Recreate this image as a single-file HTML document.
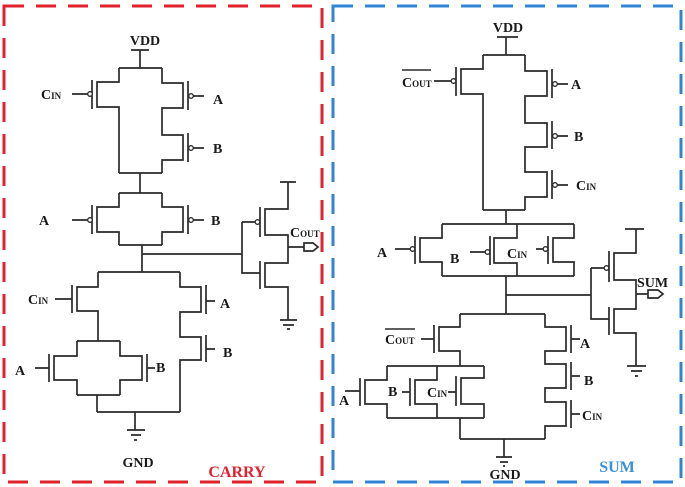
<!DOCTYPE html>
<html><head><meta charset="utf-8"><style>
html,body{margin:0;padding:0;background:#fff;}
svg{display:block;}
text{font-family:"Liberation Serif",serif;font-weight:bold;fill:#1a1a1a;font-size:14px;}
.s{font-size:9px;}
</style></head><body>
<svg width="685" height="487" viewBox="0 0 685 487" xmlns="http://www.w3.org/2000/svg">
<rect x="4" y="6" width="318" height="476" fill="none" stroke="#e0222e" stroke-width="3" stroke-dasharray="20,12"/>
<rect x="333" y="6" width="348" height="476" fill="none" stroke="#2f86d6" stroke-width="3" stroke-dasharray="20,12"/>
<g fill="none" stroke="#2a2a2a" stroke-width="1.7">
<path d="M131 50H149M140 50V68M119 68H162M119 173V107H97V82H119V68M92 80V109M72 94H88"/>
<path d="M162 68V83H183V108H162V135H183V160H162V173M188 81V110M188 133V162M193 96H204M193 148H204"/>
<path d="M119 173H162M140 173V193M119 193H162M119 193V207H97V232H119V245M162 193V207H183V232H162V245M92 205V234M188 205V234M72 220H88M193 220H204"/>
<path d="M119 245H162M142 245V272M142 254H242"/>
<path d="M98 272H180M98 272V287H77V311H98V341M72 285V313M55 299H72"/>
<path d="M77 341H120M77 341V356H54V380H77V395M49 354V382M35 368H49M120 341V356H142V380H120V395M147 354V382M147 368H155M77 395H120M97 395V412"/>
<path d="M180 272V287H201V312H180V337H201V360H180V412M206 285V314M206 335V362M206 301H215M206 349H215"/>
<path d="M97 412H180M135 412V430M127 430H145M131 435H141M134 440H137"/>
<path d="M280 182H296M288 182V209H265V235H288V263H265V287H288V320M260 207V237M260 261V289M242 222H255M242 222V273H260M288 247H304M280 320H297M283 325H294M287 329H290"/>
<path d="M304 243H313L318 247L313 251H304Z" fill="#fff"/>
<path d="M497 37H518M506 37V55M483 55H525M483 55V69H461V94H483V210M456 67V96M434 81H451"/>
<path d="M525 55V71H547V96H525V123H547V147H525V172H547V197H525V210M552 69V98M552 121V149M552 170V199M557 84H568M557 136H568M557 185H568"/>
<path d="M483 210H525M506 210V224M442 224H574"/>
<path d="M442 224V238H420V262H442V276M415 236V264M395 249H410"/>
<path d="M517 224V238H494V263H517V276M490 236V265M470 252H485"/>
<path d="M574 224V238H553V262H574V276M548 236V264M536 249H543"/>
<path d="M442 276H574M506 276V314M506 295H591"/>
<path d="M625 229H644M636 229V253H614V280H636V309H614V333H636V366M609 251V282M609 307V335M591 268H604M591 268V319H609M636 294H648M627 366H646M631 371H642M635 376H638"/>
<path d="M648 290H658L663 294L658 298H648Z" fill="#fff"/>
<path d="M460 314H545M460 314V327H439V351H460V366M434 325V353M421 339H434"/>
<path d="M387 366H484M387 366V380H365V404H387V418M360 378V406M345 391H360"/>
<path d="M437 366V380H415V404H437V418M410 378V406M402 392H410"/>
<path d="M484 366V378H461V404H484V418M456 376V406M448 392H456"/>
<path d="M387 418H484M460 418V439M460 439H545"/>
<path d="M545 314V327H566V351H545V364H566V388H545V402H566V426H545V439M571 325V353M571 362V390M571 400V428M571 339H580M571 376H580M571 414H580"/>
<path d="M504 439V457M496 457H512M500 462H508M503 466H505"/>
<path d="M402 70H431M385 329H415" stroke-width="1.4"/>
</g>
<g fill="#fff" stroke="#2a2a2a" stroke-width="1.3">
<circle cx="90" cy="94" r="2.3"/><circle cx="191" cy="96" r="2.3"/><circle cx="191" cy="148" r="2.3"/>
<circle cx="90" cy="220" r="2.3"/><circle cx="191" cy="220" r="2.3"/><circle cx="257.5" cy="222" r="2.3"/>
<circle cx="453.5" cy="81" r="2.3"/><circle cx="555" cy="84" r="2.3"/><circle cx="555" cy="136" r="2.3"/><circle cx="555" cy="185" r="2.3"/>
<circle cx="412.5" cy="249" r="2.3"/><circle cx="487.5" cy="252" r="2.3"/><circle cx="545.5" cy="249" r="2.3"/><circle cx="606.5" cy="268" r="2.3"/>
</g>
<text x="145" y="45" text-anchor="middle">VDD</text>
<text x="41" y="99">C<tspan class="s">IN</tspan></text>
<text x="213" y="104">A</text>
<text x="213" y="153">B</text>
<text x="39" y="225">A</text>
<text x="211" y="225">B</text>
<text x="28" y="304">C<tspan class="s">IN</tspan></text>
<text x="220" y="308">A</text>
<text x="223" y="357">B</text>
<text x="15" y="375">A</text>
<text x="156" y="372">B</text>
<text x="290" y="237">C<tspan class="s">OUT</tspan></text>
<text x="138" y="467" text-anchor="middle">GND</text>
<text x="237" y="477" text-anchor="middle" style="fill:#e0222e;font-size:16px">CARRY</text>
<text x="508" y="32" text-anchor="middle">VDD</text>
<text x="402" y="87">C<tspan class="s">OUT</tspan></text>
<text x="571" y="89">A</text>
<text x="574" y="141">B</text>
<text x="576" y="190">C<tspan class="s">IN</tspan></text>
<text x="377" y="257">A</text>
<text x="450" y="263">B</text>
<text x="507" y="258">C<tspan class="s">IN</tspan></text>
<text x="637" y="287">SUM</text>
<text x="385" y="344">C<tspan class="s">OUT</tspan></text>
<text x="580" y="348">A</text>
<text x="584" y="385">B</text>
<text x="582" y="420">C<tspan class="s">IN</tspan></text>
<text x="339" y="405">A</text>
<text x="388" y="396">B</text>
<text x="427" y="397">C<tspan class="s">IN</tspan></text>
<text x="505" y="479" text-anchor="middle">GND</text>
<text x="617" y="472" text-anchor="middle" style="fill:#3a8fd8;font-size:16px">SUM</text>
</svg>
</body></html>
